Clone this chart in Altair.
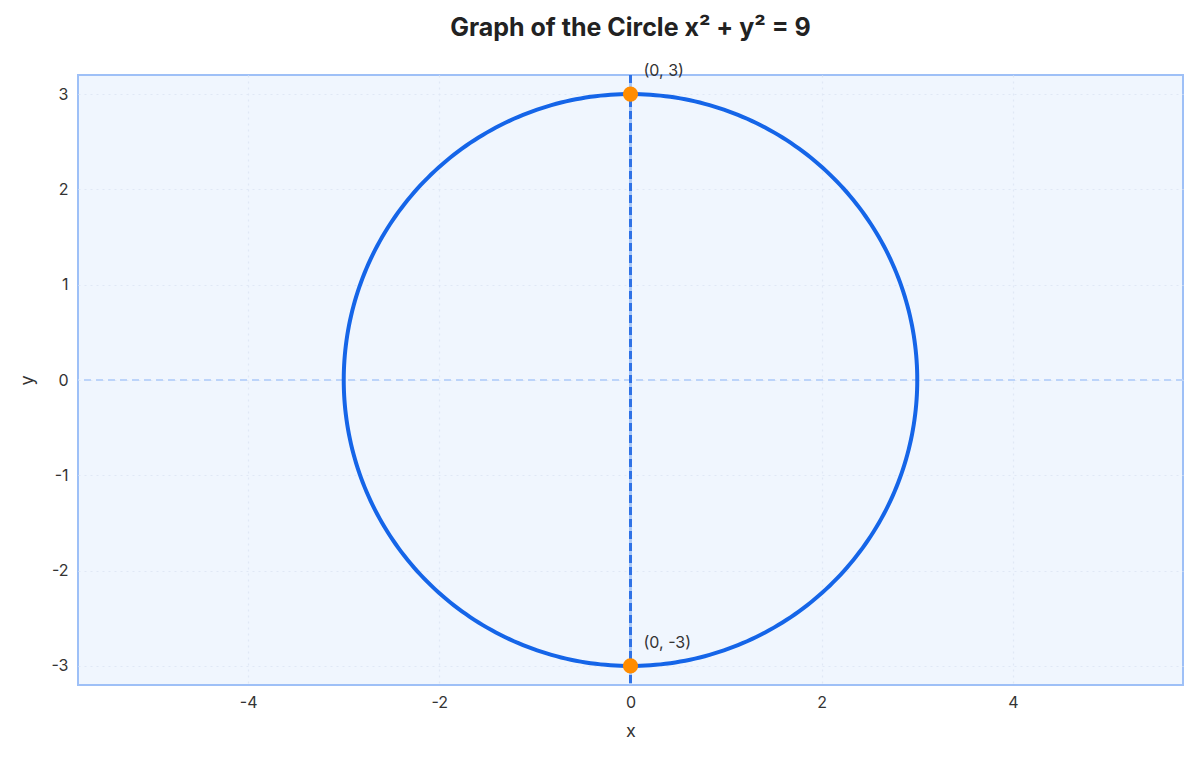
import altair as alt
import pandas as pd

# data
radius = [3]
point_x = [0, 0]
point_y = [3, -3]
point_labels = ["(0, 3)", "(0, -3)"]
x_ticks = [-4, -2, 0, 2, 4]
y_ticks = [-3, -2, -1, 0, 1, 2, 3]
x_domain = [-5.78, 5.78]
y_domain = [-3.2, 3.2]

FONT = "Inter"

xs = alt.Scale(domain=x_domain, nice=False, zero=False)
ys = alt.Scale(domain=y_domain, nice=False, zero=False)

LABEL_EXPR = "'' + datum.value"

xax = alt.Axis(values=x_ticks, title="x", grid=True, ticks=False, domain=False,
               labelPadding=9, titlePadding=12, labelExpr=LABEL_EXPR)
yax = alt.Axis(values=y_ticks, title="y", grid=True, ticks=False, domain=False,
               labelPadding=10, titlePadding=14, labelExpr=LABEL_EXPR)

circle = (
    alt.Chart(alt.sequence(0, 361, 1, as_="deg"))
    .transform_calculate(
        x=f"{radius[0]} * cos(datum.deg * PI / 180)",
        y=f"{radius[0]} * sin(datum.deg * PI / 180)",
    )
    .mark_line(color="#1565e8", strokeWidth=4)
    .encode(
        x=alt.X("x:Q", scale=xs, axis=xax),
        y=alt.Y("y:Q", scale=ys, axis=yax),
        order="deg:Q",
    )
)

hline = alt.Chart(pd.DataFrame({"y": [0]})).mark_rule(
    color="#bcd4fa", strokeWidth=2, strokeDash=[7, 5]
).encode(y=alt.Y("y:Q", scale=ys))

vline_under = alt.Chart(pd.DataFrame({"x": [0]})).mark_rule(
    color="#a9c8f8", strokeWidth=3
).encode(x=alt.X("x:Q", scale=xs))

vline = alt.Chart(pd.DataFrame({"x": [0]})).mark_rule(
    color="#2f72e6", strokeWidth=3, strokeDash=[8, 4]
).encode(x=alt.X("x:Q", scale=xs))

pts_df = pd.DataFrame({"x": point_x, "y": point_y, "label": point_labels})

points = alt.Chart(pts_df).mark_circle(color="#ff8c00", size=230, opacity=1).encode(
    x=alt.X("x:Q", scale=xs), y=alt.Y("y:Q", scale=ys)
)

labels = alt.Chart(pts_df).mark_text(
    align="left", dx=13, dy=-23, fontSize=16, font=FONT, color="#333333"
).encode(x=alt.X("x:Q", scale=xs), y=alt.Y("y:Q", scale=ys), text="label:N")

chart = (
    alt.layer(hline, vline_under, vline, circle, points, labels)
    .properties(
        width=1105,
        height=610,
        autosize=alt.AutoSizeParams(type="none"),
        padding={"left": 70, "top": 67, "right": 9, "bottom": 69},
        title=alt.TitleParams(
            "Graph of the Circle x² + y² = 9",
            fontSize=25, font=FONT, fontWeight="bold", color="#222222",
            offset=22, anchor="middle",
        ),
        background="white",
    )
    .configure_view(fill="#f0f6fe", stroke="#9ec0f7", strokeWidth=2)
    .configure_axis(
        labelFont=FONT, titleFont=FONT, labelFontSize=16, titleFontSize=18,
        labelColor="#333333", titleColor="#333333", titleFontWeight="normal",
        gridColor="#e0e8f5", gridDash=[2, 4], gridWidth=1.2,
    )
)

chart.save("out.html", embed_options={"renderer": "svg", "actions": False})
